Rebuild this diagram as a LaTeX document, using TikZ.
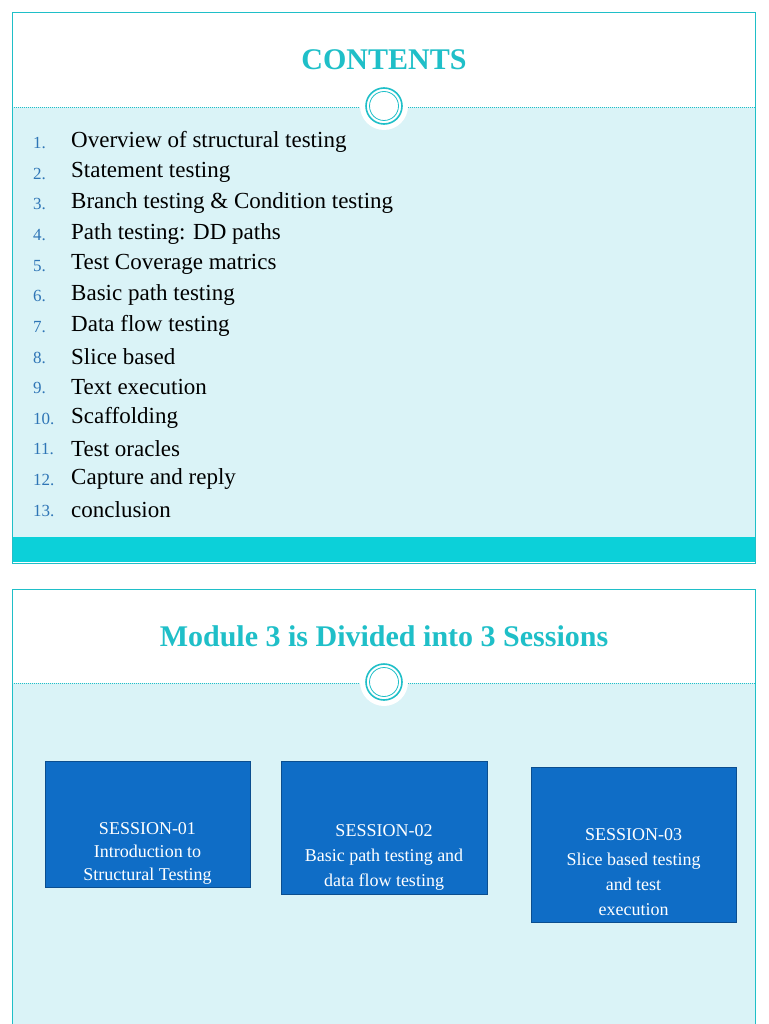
\documentclass[tikz,border=0pt]{standalone}
\usepackage{fontspec}
\setmainfont{Liberation Serif}
\definecolor{teal1}{HTML}{1FBFC8}
\definecolor{lightc}{HTML}{DAF3F7}
\definecolor{barc}{HTML}{0CD0D9}
\definecolor{boxc}{HTML}{0F6DC6}
\definecolor{boxb}{HTML}{0B4E8F}
\definecolor{numc}{HTML}{2E75B6}
\tikzset{
  frame/.style={draw=teal1, line width=1pt},
  sep/.style={draw=teal1, dash pattern=on 1pt off 1pt, line width=0.8pt},
  title/.style={text=teal1, font=\fontsize{30}{34}\selectfont\bfseries},
  item/.style={anchor=west, font=\fontsize{23}{26}\selectfont, inner sep=0pt},
  num/.style={anchor=west, text=numc, font=\fontsize{17}{20}\selectfont, inner sep=0pt},
  sbox/.style={fill=boxc, draw=boxb, line width=0.8pt, text=white, align=center, font=\fontsize{18}{25}\selectfont, inner sep=0pt}
}
\newcommand{\ornament}[2]{%
  \fill[white] (#1,#2) circle (24);
  \draw[teal1, line width=1.6pt] (#1,#2) circle (18);
  \draw[teal1, line width=0.8pt] (#1,#2) circle (14.5);
}
\begin{document}
\begin{tikzpicture}[x=1pt,y=-1pt]
\useasboundingbox (0,0) rectangle (768,1024);
\fill[white] (0,0) rectangle (768,1024);
% slide 1
\fill[lightc] (12,107) rectangle (755,537);
\fill[barc] (12,537) rectangle (755,562);
\draw[frame] (12,13) rectangle (755,563);
\draw[sep] (12,107) -- (755,107);
\ornament{384}{106}
\node[title] (t1) at (384,60) {CONTENTS};
\foreach \i/\t in {1/Overview of structural testing,2/Statement testing,3/Branch testing \& Condition testing,4/Path testing: DD paths,5/Test Coverage matrics,6/Basic path testing,7/Data flow testing,8/Slice based,9/Text execution,10/Scaffolding,11/Test oracles,12/Capture and reply,13/conclusion}{
  \node[num] (n\i) at (33,{143+30.65*(\i-1)}) {\i.};
  \node[item] (i\i) at (71,{142+30.65*(\i-1)}) {\t};
}
% slide 2
\fill[lightc] (12,683) rectangle (755,1024);
\draw[frame] (12,1030) -- (12,589) -- (755,589) -- (755,1030);
\draw[sep] (12,683) -- (755,683);
\ornament{384}{682}
\node[title] (t2) at (384,636) {Module 3 is Divided into 3 Sessions};
\node[sbox, minimum width=205, minimum height=126] (s1) at (147.5,824) {};
\node[align=center, text=white, font=\fontsize{18}{23}\selectfont] at (147.5,853) {SESSION-01\\Introduction to\\Structural Testing};
\node[sbox, minimum width=206, minimum height=133] (s2) at (384,827.5) {};
\node[align=center, text=white, font=\fontsize{18}{25}\selectfont] at (384,857) {SESSION-02\\Basic path testing and\\data flow testing};
\node[sbox, minimum width=205, minimum height=155] (s3) at (633.5,844.5) {};
\node[align=center, text=white, font=\fontsize{18}{25}\selectfont] at (633.5,872) {SESSION-03\\Slice based testing\\and test\\execution};
\end{tikzpicture}
\end{document}
